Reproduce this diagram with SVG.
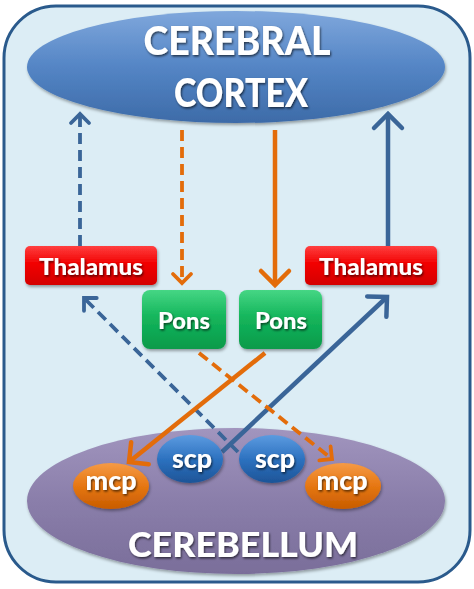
<svg xmlns="http://www.w3.org/2000/svg" width="474" height="589" viewBox="0 0 474 589">
<defs>
<linearGradient id="gCortex" x1="0" y1="0" x2="0" y2="1">
<stop offset="0" stop-color="#7fa7dc"/><stop offset="0.5" stop-color="#5485c5"/><stop offset="1" stop-color="#3d6ba8"/>
</linearGradient>
<linearGradient id="gCereb" x1="0" y1="0" x2="0" y2="1">
<stop offset="0" stop-color="#a195be"/><stop offset="0.5" stop-color="#8a7eaa"/><stop offset="1" stop-color="#7a6e9a"/>
</linearGradient>
<linearGradient id="gRed" x1="0" y1="0" x2="0" y2="1">
<stop offset="0" stop-color="#ff4040"/><stop offset="0.45" stop-color="#f20000"/><stop offset="1" stop-color="#d40000"/>
</linearGradient>
<linearGradient id="gGreen" x1="0" y1="0" x2="0" y2="1">
<stop offset="0" stop-color="#46d684"/><stop offset="0.45" stop-color="#14b65c"/><stop offset="1" stop-color="#0a9a4a"/>
</linearGradient>
<linearGradient id="gBlue" x1="0" y1="0" x2="0" y2="1">
<stop offset="0" stop-color="#5c9be0"/><stop offset="0.5" stop-color="#2d72c0"/><stop offset="1" stop-color="#1d5497"/>
</linearGradient>
<linearGradient id="gOrange" x1="0" y1="0" x2="0" y2="1">
<stop offset="0" stop-color="#f59a45"/><stop offset="0.5" stop-color="#e67712"/><stop offset="1" stop-color="#c85c00"/>
</linearGradient>
<filter id="shadow" x="-20%" y="-20%" width="140%" height="150%">
<feDropShadow dx="1" dy="2" stdDeviation="1.5" flood-color="#000" flood-opacity="0.35"/>
</filter>
<filter id="tshadow" x="-10%" y="-20%" width="120%" height="150%">
<feDropShadow dx="1" dy="1.5" stdDeviation="0.8" flood-color="#000" flood-opacity="0.65"/>
</filter>
<marker id="hBlueS" markerUnits="userSpaceOnUse" viewBox="-20 -16 24 32" refX="0" refY="0" markerWidth="24" markerHeight="32" orient="auto" overflow="visible">
<path d="M-14,-14 L0,0 L-14,14" fill="none" stroke="#3a6598" stroke-width="4.5" stroke-linecap="round"/>
</marker>
<marker id="hBlueD" markerUnits="userSpaceOnUse" viewBox="-20 -16 24 32" refX="0" refY="0" markerWidth="24" markerHeight="32" orient="auto" overflow="visible">
<path d="M-9,-9 L0,0 L-9,9" fill="none" stroke="#3a6598" stroke-width="3.8" stroke-linecap="round"/>
</marker>
<marker id="hOrS" markerUnits="userSpaceOnUse" viewBox="-20 -16 24 32" refX="0" refY="0" markerWidth="24" markerHeight="32" orient="auto" overflow="visible">
<path d="M-14,-14 L0,0 L-14,14" fill="none" stroke="#e36c0a" stroke-width="4.5" stroke-linecap="round"/>
</marker>
<marker id="hOrD" markerUnits="userSpaceOnUse" viewBox="-20 -16 24 32" refX="0" refY="0" markerWidth="24" markerHeight="32" orient="auto" overflow="visible">
<path d="M-9,-9 L0,0 L-9,9" fill="none" stroke="#e36c0a" stroke-width="3.8" stroke-linecap="round"/>
</marker>
</defs>
<style>
.t{font-family:Lato,"Liberation Sans",Arial,sans-serif;font-weight:900;fill:#fff;text-anchor:middle;filter:url(#tshadow)}
.blueS{stroke:#3a6598;stroke-width:4.5;fill:none;marker-end:url(#hBlueS)}
.blueD{stroke:#3a6598;stroke-width:3.8;fill:none;stroke-dasharray:11 6;marker-end:url(#hBlueD)}
.orS{stroke:#e36c0a;stroke-width:4.5;fill:none;marker-end:url(#hOrS)}
.orD{stroke:#e36c0a;stroke-width:3.8;fill:none;stroke-dasharray:11 6;marker-end:url(#hOrD)}
.box{filter:url(#shadow)}
</style>
<rect id="frame" x="4" y="6" width="466" height="576" rx="52" ry="52" fill="#dcedf5" stroke="#2a5a8c" stroke-width="3"/>
<g id="cortex">
<ellipse class="box" cx="236" cy="67" rx="209" ry="56" fill="url(#gCortex)"/>
<text class="t" x="237" y="55" font-size="39" textLength="187" lengthAdjust="spacingAndGlyphs">CEREBRAL</text>
<text class="t" x="241" y="107" font-size="39" textLength="134" lengthAdjust="spacingAndGlyphs">CORTEX</text>
</g>
<g id="cerebellum">
<ellipse class="box" cx="236" cy="501" rx="209" ry="73" fill="url(#gCereb)"/>
<text class="t" x="243" y="557" font-size="35" textLength="230" lengthAdjust="spacingAndGlyphs">CEREBELLUM</text>
</g>
<g id="connectors">
<line class="blueD" x1="80" y1="246" x2="80" y2="114"/>
<line class="blueS" x1="388" y1="246" x2="388" y2="114"/>
<line class="orD" x1="182" y1="130" x2="182" y2="283"/>
<line class="orS" x1="275" y1="130" x2="275" y2="285"/>
<line class="blueD" x1="238" y1="452" x2="84" y2="298"/>
<line class="blueS" x1="222" y1="452" x2="387" y2="297"/>
<line class="orS" x1="265" y1="353" x2="129" y2="462"/>
<line class="orD" x1="199" y1="353" x2="332" y2="459"/>
</g>
<g id="thalamus-left">
<rect class="box" x="25" y="246" width="132" height="39" rx="5" fill="url(#gRed)"/>
<text class="t" x="91" y="275" font-size="22" textLength="104" lengthAdjust="spacingAndGlyphs">Thalamus</text>
</g>
<g id="thalamus-right">
<rect class="box" x="305" y="246" width="132" height="39" rx="5" fill="url(#gRed)"/>
<text class="t" x="371" y="275" font-size="22" textLength="104" lengthAdjust="spacingAndGlyphs">Thalamus</text>
</g>
<g id="pons-left">
<rect class="box" x="142" y="290" width="84" height="59" rx="8" fill="url(#gGreen)"/>
<text class="t" x="184" y="329" font-size="23" textLength="52" lengthAdjust="spacingAndGlyphs">Pons</text>
</g>
<g id="pons-right">
<rect class="box" x="239" y="290" width="83" height="59" rx="8" fill="url(#gGreen)"/>
<text class="t" x="281" y="329" font-size="23" textLength="52" lengthAdjust="spacingAndGlyphs">Pons</text>
</g>
<g id="scp-left">
<ellipse class="box" cx="190" cy="459" rx="33" ry="24" fill="url(#gBlue)"/>
<text class="t" x="192" y="468" font-size="26" textLength="40" lengthAdjust="spacingAndGlyphs">scp</text>
</g>
<g id="scp-right">
<ellipse class="box" cx="272" cy="459" rx="33" ry="24" fill="url(#gBlue)"/>
<text class="t" x="275" y="468" font-size="26" textLength="40" lengthAdjust="spacingAndGlyphs">scp</text>
</g>
<g id="mcp-left">
<ellipse class="box" cx="111" cy="486" rx="38" ry="23" fill="url(#gOrange)"/>
<text class="t" x="111" y="490" font-size="26" textLength="51" lengthAdjust="spacingAndGlyphs">mcp</text>
</g>
<g id="mcp-right">
<ellipse class="box" cx="343" cy="486" rx="38" ry="23" fill="url(#gOrange)"/>
<text class="t" x="342" y="490" font-size="26" textLength="51" lengthAdjust="spacingAndGlyphs">mcp</text>
</g>
</svg>
